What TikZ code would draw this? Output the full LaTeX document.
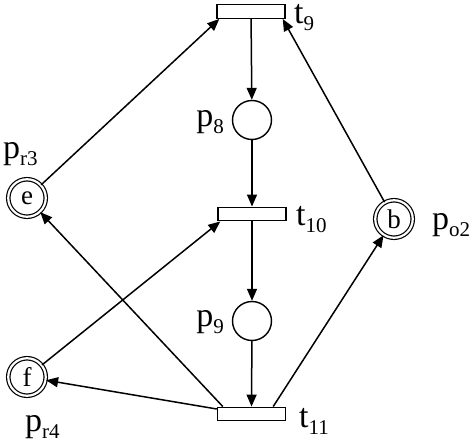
\documentclass[tikz,border=0pt]{standalone}
\usepackage{fontspec}
\setmainfont{Liberation Serif}
\usetikzlibrary{arrows.meta}
\newcommand{\lbsub}[2]{#1\raisebox{-7pt}{\fontsize{21}{21}\selectfont #2}}
\tikzset{
  trans/.style={draw, line width=1.4pt, minimum width=68pt, minimum height=13.5pt, inner sep=0pt, fill=white},
  place/.style={draw, circle, line width=1.4pt, minimum size=39pt, inner sep=0pt},
  dplace/.style={draw, circle, line width=1.2pt, double, double distance=2.2pt, minimum size=37.5pt, inner sep=0pt, font=\fontsize{27}{27}\selectfont},
  lab/.style={inner sep=0pt, font=\fontsize{34}{34}\selectfont},
  arr/.style={line width=1.5pt, -{Triangle[length=12pt, width=10pt]}},
}
\begin{document}
\begin{tikzpicture}[x=1pt, y=-1pt]
\useasboundingbox (0,0) rectangle (474,444);
% transitions
\node[trans] (t9) at (251,11.5) {};
\node[trans] (t10) at (252,214) {};
\node[trans] (t11) at (251.5,414) {};
% places
\node[place] (p8) at (252,120) {};
\node[place] (p9) at (252,321) {};
\node[dplace] (e) at (27,198) {e};
\node[dplace] (b) at (394,219) {b};
\node[dplace] (f) at (27,377) {f};
% labels
\node[lab, anchor=base west] (lt9) at (294,24) {\lbsub{t}{9}};
\node[lab, anchor=base west] (lt10) at (296,225) {\lbsub{t}{10}};
\node[lab, anchor=base west] (lt11) at (299,427) {\lbsub{t}{11}};
\node[lab, anchor=base east] (lp8) at (224,126) {\lbsub{p}{8}};
\node[lab, anchor=base east] (lp9) at (224,326) {\lbsub{p}{9}};
\node[lab, anchor=base west] (lpr3) at (3,158) {\lbsub{p}{r3}};
\node[lab, anchor=base west] (lpr4) at (25,431) {\lbsub{p}{r4}};
\node[lab, anchor=base west] (lpo2) at (432,229) {\lbsub{p}{o2}};
% arcs
\draw[arr] (t9) -- (p8);
\draw[arr] (p8) -- (t10);
\draw[arr] (t10) -- (p9);
\draw[arr] (p9) -- (t11);
\draw[arr] (e) -- ([xshift=3pt]t9.south west);
\draw[arr] (b) -- ([xshift=-3pt]t9.south east);
\draw[arr] ([xshift=6pt]t11.north west) -- (e);
\draw[arr] ([xshift=-13pt]t11.north east) -- (b);
\draw[arr] ([yshift=5pt]t11.west) -- (f);
\draw[arr] (f) -- ([xshift=3pt]t10.south west);
\end{tikzpicture}
\end{document}
